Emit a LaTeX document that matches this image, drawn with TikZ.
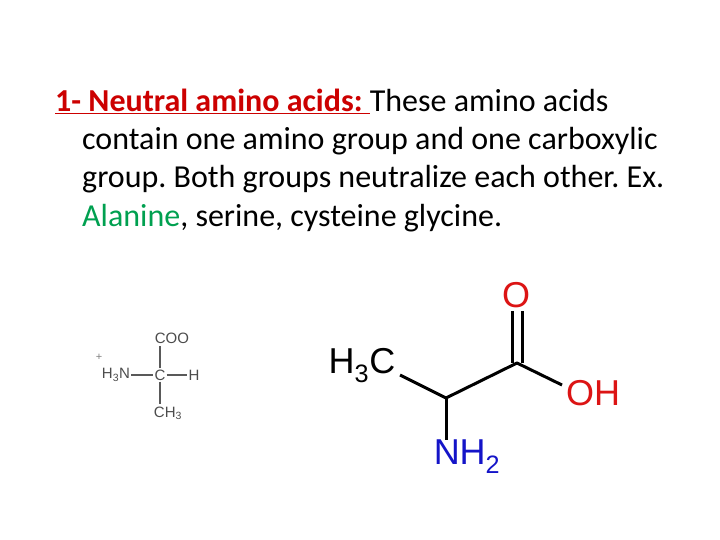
\documentclass[tikz,border=0pt]{standalone}
\usepackage{fontspec}
\setmainfont{Carlito}
\newfontfamily\chem{Liberation Sans}
\definecolor{ulred}{RGB}{204,0,0}
\definecolor{algreen}{RGB}{0,160,80}
\definecolor{chred}{RGB}{220,20,20}
\definecolor{chblue}{RGB}{20,20,200}
\frenchspacing
\begin{document}
\begin{tikzpicture}[x=1pt,y=1pt,
  txt/.style={anchor=base west,inner sep=0pt,font=\fontsize{32}{38}\selectfont},
  big/.style={inner sep=0pt,font=\chem\fontsize{36}{38}\selectfont},
  sm/.style={inner sep=0pt,font=\chem\fontsize{15}{16}\selectfont,text=black!70},
  bond/.style={line width=3pt},
  sbond/.style={line width=1.3pt,black!65}]
\useasboundingbox (0,0) rectangle (720,-540);
\node[txt] (l1) at (55,-112) {\textcolor{ulred}{\textbf{\underline{1- Neutral amino acids: }}}These amino acids};
\node[txt] (l2) at (82,-150) {contain one amino group and one carboxylic};
\node[txt] (l3) at (82,-188) {group. Both groups neutralize each other. Ex.};
\node[txt] (l4) at (82,-226) {\textcolor{algreen}{Alanine}, serine, cysteine glycine.};
% small structure
\node[sm] (coo) at (172,-338) {COO};
\node[sm] (c) at (160,-375) {C};
\node[sm] (hn) at (116,-375) {H\textsubscript{3}N};
\node[sm] (h) at (194,-375) {H};
\node[sm] (ch) at (168,-413) {CH\textsubscript{3}};
\node[sm,text=black!50] (plus) at (99,-357) {\fontsize{11}{11}\selectfont +};
\draw[sbond] (c.north) ++(0,1) -- ([yshift=-2pt]coo.south -| c);
\draw[sbond] ([xshift=1pt]hn.east) -- ([xshift=-1pt]c.west);
\draw[sbond] ([xshift=1pt]c.east) -- ([xshift=-1pt]h.west);
\draw[sbond] ([yshift=-1pt]c.south) -- ([yshift=2pt]c.south |- ch.north);
% big structure
\node[big] (h3c) at (362,-366) {H\textsubscript{3}C};
\node[big,text=chred] (o) at (516,-295) {O};
\node[big,text=chred] (oh) at (593,-393) {OH};
\node[big,text=chblue] (nh) at (467,-457) {NH\textsubscript{2}};
\coordinate (ca) at (446,-398);
\coordinate (cc) at (517,-363);
\coordinate (ce) at (400,-375);
\coordinate (ohs) at (562,-385);
\coordinate (nts) at (446,-440);
\draw[bond,line join=round] (ce) -- (ca) -- (cc) -- (ohs);
\draw[bond] (ca) -- (nts);
\draw[bond] ([xshift=-5pt]cc) -- ++(0,52) coordinate (d1);
\draw[bond] ([xshift=5pt]cc) -- ++(0,52) coordinate (d2);
\end{tikzpicture}
\end{document}
